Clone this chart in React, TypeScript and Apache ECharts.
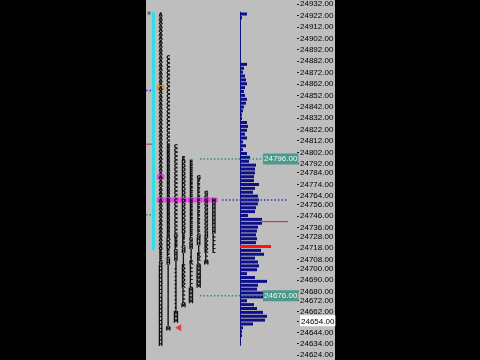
import React, { useEffect, useRef } from 'react';
import * as echarts from 'echarts';

// Price scale tick labels (right axis)
const priceTicks = [24932, 24922, 24912, 24902, 24892, 24882, 24872, 24862, 24852, 24842, 24832, 24822, 24812, 24802, 24792, 24784, 24774, 24764, 24756, 24746, 24736, 24728, 24718, 24708, 24700, 24690, 24680, 24672, 24662, 24654, 24644, 24634, 24624];
const currentPrice = 24654;
const priceMin = 24619.6;
const priceMax = 24935.5;

// TPO letters per profile row (top row first)
const rowLetters = [
  'A', 'A', 'A', 'A', 'A', 'A', 'A', 'A', 'A', 'A', 'A',
  'AC', 'AC', 'AC', 'AC', 'AC', 'AC', 'AC', 'AC', 'AC', 'AC', 'AC', 'AC',
  'AC', 'AC', 'AC', 'AC', 'AC', 'AC', 'AC', 'AC', 'AC', 'AC', 'AC',
  'ABC', 'ABC', 'ABC',
  'ABCE',
  'ABCDE', 'ABCDE', 'ABCDE', 'ABCDE',
  'ABCDEG',
  'ABCDEF', 'ABCDEF', 'ABCDEF',
  'ABCDEFG', 'ABCDEFG',
  'ABCDEFGH',
  'ABCDEFGH', 'ABCDEFGH', 'ABCDEFGH', 'ABCDEFGH', 'ABCDEFGH', 'ABCDEFGH', 'ABCDEFGH', 'ABCDEFGH',
  'ABDEFGHL',
  'ADEFGHKL',
  'ADEFGHKL',
  'ADFGHIKL',
  'EFGHIJKL',
  'EFHIJKL',
  'EGHIJKL',
  'GHIJKLM',
  'HIJKLM', 'HIJKLM', 'HIJKLM', 'HIJKLM', 'HIJKLM', 'HIJKLM',
  'HIJLM', 'HIJLM', 'HIJLM', 'HIJLM',
  'HIJM',
  'HIJ',
  'HIM', 'HIM', 'HIM',
  'HI',
  'HM',
  'H', 'H', 'H', 'H',
];

// Volume histogram per row
const rowVolume = [
  7, 2, 1, 1, 1, 1, 1, 1, 1, 1, 1, 1, 1,
  7, 4, 3, 5, 6, 7, 5, 4, 5, 7, 6, 4, 3, 2, 2,
  7, 8, 7, 5, 7, 3, 6, 3, 7, 10, 9,
  16, 15, 15, 14, 14, 19, 15, 13, 18, 19,
  18, 16, 15, 8, 22, 22, 18, 17, 16, 17, 16,
  31,
  21, 24, 15, 18, 19, 17, 7, 15, 27, 18, 17, 23, 25, 7, 14, 17, 23, 27, 25, 13, 3, 2, 2, 1, 1,
];

const pocRow = 48;
const redVolumeRow = 60;
const magentaCells = [[0, 42]];
const orangeCells = [[0, 19]];
const lastPriceMarker = [2.3, 81];
const openMarker = [149, 24924];

const rowIds = rowLetters.map((_, i) => String(i));

type Cell = { c: number; r: number; ch: string; hl: number };
const cells: Cell[] = [];
rowLetters.forEach((s, r) => {
  s.split('').forEach((ch, c) => {
    let hl = 0;
    if (r === pocRow) hl = 1;
    if (magentaCells.some(([cc, rr]) => cc === c && rr === r)) hl = 1;
    if (orangeCells.some(([cc, rr]) => cc === c && rr === r)) hl = 2;
    cells.push({ c, r, ch, hl });
  });
});

const TEAL = '#2f8f7f';
const BLUE = '#3030d0';
const annotations = [
  { x1: 200, p1: 24796, x2: 262, p2: 24796, color: TEAL, dash: true, w: 1.5, label: '24796.00' },
  { x1: 200, p1: 24676, x2: 262, p2: 24676, color: TEAL, dash: true, w: 1.5, label: '24676.00' },
  { x1: 222, p1: 24760, x2: 288, p2: 24760, color: BLUE, dash: true, w: 1.5 },
  { x1: 262, p1: 24741, x2: 288, p2: 24741, color: '#d0204a', dash: false, w: 1 },
  { x1: 146, p1: 24856, x2: 152, p2: 24856, color: BLUE, dash: true, w: 1.5 },
  { x1: 146, p1: 24747, x2: 152, p2: 24747, color: TEAL, dash: true, w: 1.5 },
  { x1: 146, p1: 24809, x2: 152, p2: 24809, color: '#c03050', dash: false, w: 1 },
  { x1: 153.5, p1: 24925, x2: 153.5, p2: 24716, color: '#35e0e8', dash: false, w: 3 },
];

const rowGridTop = 12.06;
const rowGridHeight = 333.25;

const option: any = {
  animation: false,
  backgroundColor: '#000',
  graphic: [
    { type: 'rect', silent: true, z: -10, shape: { x: 146, y: 0, width: 189, height: 360 }, style: { fill: '#c0c0c0' } },
  ],
  grid: [
    { left: 146, top: 0, width: 151, height: 360, outerBoundsMode: 'none' },
    { left: 146, top: rowGridTop, width: 151, height: rowGridHeight, outerBoundsMode: 'none' },
    { left: 146, top: rowGridTop, width: 151, height: rowGridHeight, outerBoundsMode: 'none' },
  ],
  xAxis: [
    { gridIndex: 0, type: 'value', min: 146, max: 297, show: false },
    { gridIndex: 1, type: 'value', min: -1.934, max: 17.934, show: false },
    { gridIndex: 2, type: 'value', min: -94, max: 57, show: false },
  ],
  yAxis: [
    {
      gridIndex: 0, type: 'value', min: priceMin, max: priceMax, position: 'right',
      splitLine: { show: false },
      axisLine: { show: false },
      axisTick: { show: true, customValues: priceTicks, length: 2, lineStyle: { color: '#222' } },
      axisLabel: {
        customValues: priceTicks, margin: 3, color: '#000', fontSize: 8, fontFamily: 'Liberation Sans',
        formatter: (v: number) => (v === currentPrice ? `{cur|${v.toFixed(2)}}` : v.toFixed(2)),
        rich: { cur: { backgroundColor: '#ffffff', color: '#000', fontSize: 8, fontFamily: 'Liberation Sans', padding: [2, 1, 1, 1] } },
      },
    },
    { gridIndex: 1, type: 'category', data: rowIds, inverse: true, show: false },
    {
      gridIndex: 2, type: 'category', data: rowIds, inverse: true, show: true,
      axisLabel: { show: false }, axisTick: { show: false }, splitLine: { show: false },
      axisLine: { show: true, onZero: true, lineStyle: { color: '#10108a', width: 1 } },
    },
  ],
  series: [
    {
      type: 'bar', xAxisIndex: 2, yAxisIndex: 2, barWidth: 3, z: 2,
      data: rowVolume.map((v, i) => (i === redVolumeRow ? { value: v, itemStyle: { color: '#ff1414' } } : v)),
      itemStyle: { color: '#10108a' },
    },
    {
      type: 'custom', xAxisIndex: 1, yAxisIndex: 1, z: 3, clip: false,
      data: cells.map((c) => [c.c, c.r]),
      renderItem: (params: any, api: any) => {
        const cell = cells[params.dataIndex];
        const p = api.coord([api.value(0), api.value(1)]);
        const children: any[] = [];
        if (cell.hl) {
          children.push({
            type: 'rect',
            shape: { x: p[0] - 3.6, y: p[1] - 2.5, width: 7.2, height: 5 },
            style: { fill: cell.hl === 1 ? '#ec3cec' : '#f28a2e', stroke: 'none' },
          });
        }
        children.push({
          type: 'text',
          x: p[0], y: p[1] + 0.3, rotation: 0.002,
          style: {
            text: cell.ch, x: 0, y: 0, align: 'center', verticalAlign: 'middle',
            font: 'bold 5px "DejaVu Sans"', fill: '#000000', stroke: '#111111', lineWidth: 0.3,
          },
        });
        return { type: 'group', children };
      },
    },
    {
      type: 'scatter', xAxisIndex: 1, yAxisIndex: 1, z: 4,
      data: [lastPriceMarker], symbol: 'triangle', symbolRotate: 90, symbolSize: [7, 6],
      itemStyle: { color: '#e82028' },
    },
    {
      type: 'scatter', xAxisIndex: 0, yAxisIndex: 0, z: 4,
      data: [openMarker], symbol: 'rect', symbolSize: 3,
      itemStyle: { color: '#505050' },
    },
    {
      type: 'custom', xAxisIndex: 0, yAxisIndex: 0, z: 5, clip: false,
      encode: { x: [0, 2], y: [1, 3] },
      data: annotations.map((a) => [a.x1, a.p1, a.x2, a.p2]),
      renderItem: (params: any, api: any) => {
        const a = annotations[params.dataIndex];
        const s = api.coord([a.x1, a.p1]);
        const e = api.coord([a.x2, a.p2]);
        const children: any[] = [
          {
            type: 'line',
            shape: { x1: s[0], y1: s[1], x2: e[0], y2: e[1] },
            style: { stroke: a.color, lineWidth: a.w, lineDash: a.dash ? [1.5, 2] : null },
          },
        ];
        if (a.label) {
          children.push({
            type: 'text',
            style: {
              text: a.label, x: e[0] + 1, y: e[1], verticalAlign: 'middle', align: 'left',
              font: '8px "Liberation Sans"', fill: '#f0f8f6', backgroundColor: '#4e9c8d',
              padding: [2, 1, 1, 1],
            },
          });
        }
        return { type: 'group', children };
      },
    },
  ],
};

export default function App() {
  const ref = useRef<HTMLDivElement>(null);
  useEffect(() => {
    if (!ref.current) return;
    const chart = echarts.init(ref.current, null, { renderer: 'svg' });
    chart.setOption(option);
    const svg = ref.current.querySelector('svg') as SVGSVGElement | null;
    if (svg) {
      svg.style.willChange = 'transform';
      svg.style.opacity = '0.995';
    }
    return () => chart.dispose();
  }, []);
  return (
    <div
      ref={ref}
      style={{ position: 'fixed', left: 0, top: 0, width: 480, height: 360, background: '#000' }}
    />
  );
}
